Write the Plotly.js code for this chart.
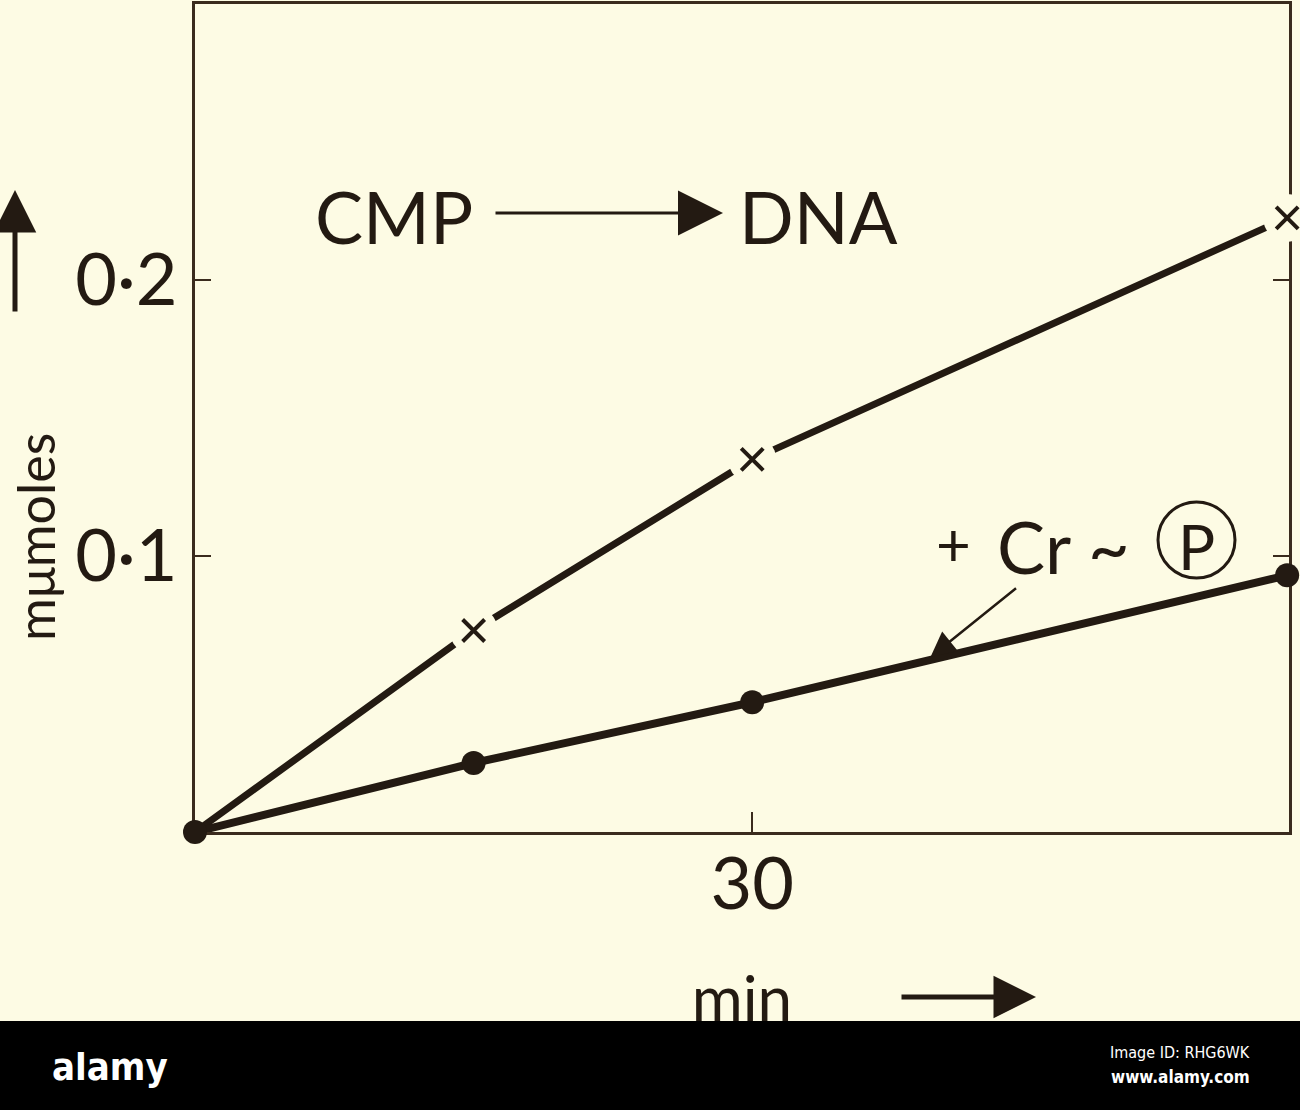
<!DOCTYPE html>
<html>
<head>
<meta charset="utf-8">
<script src="https://cdn.plot.ly/plotly-3.0.1.min.js"></script>
<style>html,body{margin:0;padding:0;background:#fdfbe4;}</style>
</head>
<body>
<div id="chart" style="width:1300px;height:1110px;"></div>
<script>
// Data
const timeMin = [0, 15, 30, 58.8];
const cmpToDna = [0, 0.073, 0.135, 0.2225];      // CMP -> DNA (x markers)
const withCrP = [0, 0.025, 0.047, 0.093];         // + Cr~P (filled dots)
const xTickVals = [30];
const xTickText = ['30'];
const yTickVals = [0.1, 0.2];
const yTickText = ['0·1', '0·2'];

const ink = '#231a12';
const axisInk = '#3a2b1d';
const paper = '#fdfbe4';
const font = 'Lato, "Open Sans", sans-serif';
const wmFont = '"DejaVu Sans Condensed", "DejaVu Sans", sans-serif';

const traces = [
  {x: timeMin, y: cmpToDna, mode: 'lines', line: {color: ink, width: 7}, hoverinfo: 'skip', showlegend: false},
  {x: timeMin, y: withCrP, mode: 'lines+markers', line: {color: ink, width: 8},
   marker: {symbol: 'circle', size: 24, color: ink}, cliponaxis: false, showlegend: false},
  {x: timeMin.slice(1), y: cmpToDna.slice(1), mode: 'markers',
   marker: {symbol: 'circle', size: 48, color: paper}, cliponaxis: false, hoverinfo: 'skip', showlegend: false},
  {x: timeMin.slice(1), y: cmpToDna.slice(1), mode: 'markers',
   marker: {symbol: 'x-thin', size: 22, line: {color: ink, width: 4}}, cliponaxis: false, showlegend: false}
];

function px2x(p) { return (p - 195) / 1094; }
function py2y(p) { return (832 - p) / 828; }

function label(xp, yp, text, size, extra) {
  return Object.assign({xref: 'paper', yref: 'paper', x: px2x(xp), y: py2y(yp), text: text,
    showarrow: false, xanchor: 'center', yanchor: 'middle',
    font: {family: font, size: size, color: ink}}, extra || {});
}
function arrow(xp, yp, ax, ay, width, size) {
  return {xref: 'paper', yref: 'paper', x: px2x(xp), y: py2y(yp), ax: ax, ay: ay, text: '',
    showarrow: true, arrowhead: 2, arrowsize: size, arrowwidth: width, arrowcolor: ink};
}

const layout = {
  width: 1300, height: 1110,
  margin: {l: 195, r: 11, t: 4, b: 278},
  paper_bgcolor: paper, plot_bgcolor: paper,
  showlegend: false,
  font: {family: font, color: ink},
  xaxis: {
    range: [0, 58.9], tickvals: xTickVals, ticktext: xTickText,
    ticks: 'inside', ticklen: 20, tickwidth: 2, tickcolor: axisInk,
    showline: true, linewidth: 3, linecolor: axisInk, mirror: true,
    showgrid: false, zeroline: false, layer: 'below traces',
    tickfont: {family: font, size: 72, color: ink},
    ticklabelstandoff: -12,
    title: {text: 'min', font: {family: font, size: 62, color: ink}, standoff: 55}
  },
  yaxis: {
    range: [0, 0.3], tickvals: yTickVals, ticktext: yTickText,
    ticks: 'inside', ticklen: 16, tickwidth: 2, tickcolor: axisInk,
    showline: true, linewidth: 3, linecolor: axisInk, mirror: 'ticks',
    showgrid: false, zeroline: false, layer: 'below traces',
    tickfont: {family: font, size: 72, color: ink}
  },
  shapes: [
    {type: 'circle', xref: 'paper', yref: 'paper',
     x0: px2x(1158), x1: px2x(1235), y0: py2y(578), y1: py2y(502),
     line: {color: ink, width: 3}},
    {type: 'rect', xref: 'paper', yref: 'paper', layer: 'above',
     x0: px2x(-5), x1: px2x(1305), y0: py2y(1115), y1: py2y(1021),
     fillcolor: '#000000', line: {width: 0}}
  ],
  annotations: [
    label(394, 216, 'CMP', 72),
    arrow(723, 213, -229, 0, 3, 3),
    label(818, 216, 'DNA', 72),
    label(953, 543, '+', 60),
    label(1063, 546, 'Cr ~', 72),
    label(1196, 546, 'P', 62),
    {x: 39.6, y: 0.0634, ax: 87, ay: -70, text: '', showarrow: true,
     arrowhead: 2, arrowsize: 2, arrowwidth: 2.5, arrowcolor: ink},
    label(35, 537, 'mμmoles', 52, {textangle: -90}),
    arrow(15, 190, 0, 123, 5, 1.7),
    arrow(1036, 997, -136, 0, 5, 1.7),
    label(50, 1067, '<b>alamy</b>', 38, {xanchor: 'left', font: {family: wmFont, size: 38, color: '#ffffff'}}),
    label(1252, 1052, 'Image ID: RHG6WK', 16, {xanchor: 'right', font: {family: wmFont, size: 16, color: '#ffffff'}}),
    label(1252, 1077, '<b>www.alamy.com</b>', 17, {xanchor: 'right', font: {family: wmFont, size: 17, color: '#ffffff'}})
  ]
};

Plotly.newPlot('chart', traces, layout, {displayModeBar: false, staticPlot: true});
</script>
</body>
</html>
